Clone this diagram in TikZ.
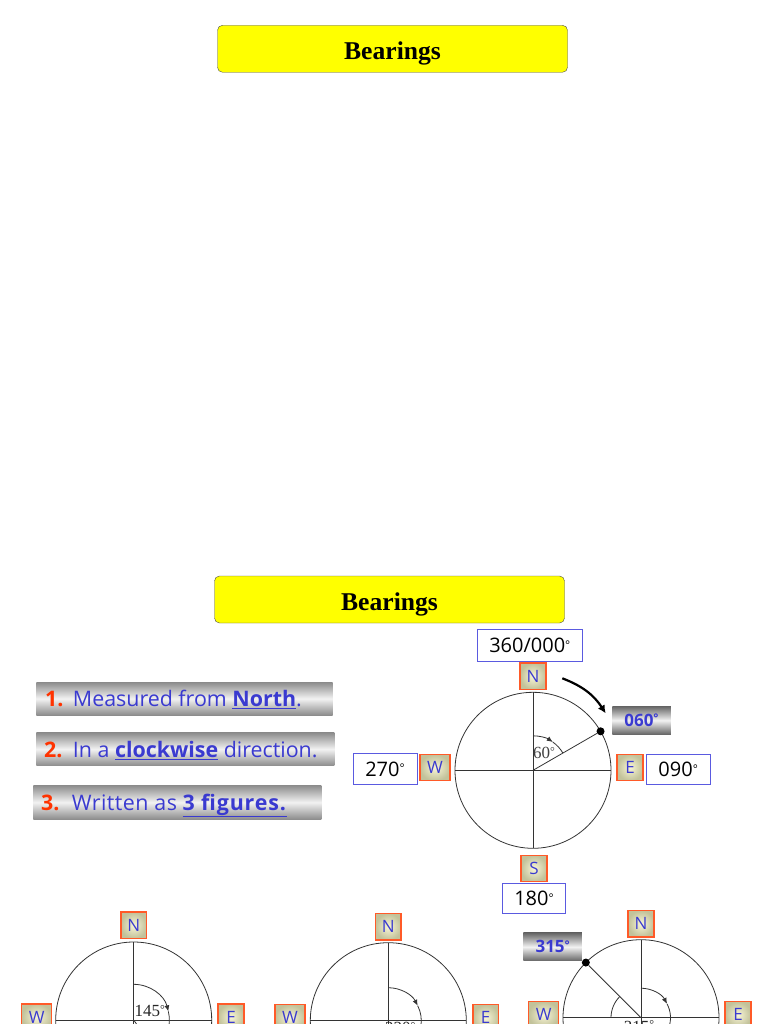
\documentclass[tikz,border=0pt]{standalone}
\usepackage{fontspec}
\setmainfont{Open Sans}
\newfontfamily\titlefont{Liberation Serif}
\usetikzlibrary{arrows.meta,positioning}
\definecolor{titleyellow}{HTML}{FFFF00}
\definecolor{textblue}{HTML}{3A3AD0}
\definecolor{edgeblue}{HTML}{5A5AE0}
\definecolor{edgeorange}{HTML}{FF5A28}
\definecolor{numred}{HTML}{FF3300}
\definecolor{spokegrey}{HTML}{333333}
\definecolor{boxlight}{HTML}{F8F5D6}
\definecolor{boxdark}{HTML}{C2C29A}
\newcommand{\dg}{\raisebox{3.5pt}{\fontsize{12}{12}\selectfont °}}
\tikzset{
  titlebox/.style={draw=black!70,fill=titleyellow,rounded corners=5pt,minimum width=350pt,minimum height=47pt,inner sep=0pt,text height=21pt,text depth=0pt,font=\titlefont\bfseries\fontsize{25.6}{28}\selectfont},
  greybar/.style={top color=black!45,bottom color=black!45,middle color=black!5},
  bartext/.style={anchor=base west,inner sep=0pt,text=textblue,font=\fontsize{21.4}{24}\selectfont},
  dirbox/.style={draw=edgeorange,line width=1.5pt,inner color=boxlight,outer color=boxdark,minimum width=25.6pt,minimum height=26.4pt,inner sep=0pt,text=textblue,font=\fontsize{17}{20}\selectfont},
  widebox/.style={dirbox,minimum width=30pt},
  degbox/.style={draw=edgeblue,line width=0.8pt,fill=white,inner sep=0pt,font=\fontsize{20}{22}\selectfont},
  markbox/.style={top color=black!60,bottom color=black!60,middle color=black!5,inner sep=0pt,minimum width=58.5pt,minimum height=28pt,text=textblue,font=\bfseries\fontsize{17}{19}\selectfont},
  spoke/.style={spokegrey,line width=0.8pt},
  anglabel/.style={inner sep=0pt,text=black!75,font=\titlefont\fontsize{17}{19}\selectfont},
  dot/.style={circle,fill=black,inner sep=0pt,minimum size=8pt}
}
\begin{document}
\begin{tikzpicture}[x=1pt,y=-1pt]

    \useasboundingbox (0,0) rectangle (768,1024);
    \clip (0,0) rectangle (768,1024);

    \node[titlebox] (title1) at (392.5,48.8) {Bearings};
    \node[titlebox] (title2) at (389.5,599.5) {Bearings};

    \shade[greybar] (36.3,682.3) rectangle (332.7,715);
    \shade[greybar] (36.3,732.7) rectangle (334.3,765.7);
    \shade[greybar] (33.3,785.3) rectangle (321.3,819.3);

    \node[bartext] (rule1) at (45,706.7) {\textcolor{numred}{\textbf{1.}}\hspace{2pt} Measured from \underline{\textbf{North}}.};
    \node[bartext] (rule2) at (44,757.7) {\textcolor{numred}{\textbf{2.}}\hspace{3pt} In a \underline{\textbf{clockwise}} direction.};
    \node[bartext] (rule3) at (41,810) {\textcolor{numred}{\textbf{3.}}\hspace{5pt} {\addfontfeature{LetterSpace=2}Written as} \underline{{\addfontfeature{LetterSpace=4}\textbf{3 figures.}}}};

    \begin{scope}[xshift=533pt,yshift=-770.3pt]

      \draw[spoke] (0,0) circle [radius=78];
      \draw[spoke] (-78,0) -- (78,0);
      \draw[spoke] (0,-78) -- (0,78);
      \node[dot] (pt060) at (-30:78) {};
      \draw[spoke] (0,0) -- (pt060);
      \draw[spoke,-{Latex[length=6pt,width=5pt]}] (0,-34.5) arc [start angle=-90,end angle=-55,radius=34.5];
      \draw[spoke] (-55:34.5) arc [start angle=-55,end angle=-30,radius=34.5];
      \node[anglabel] (lab60) at (11,-17) {60\dg};

      \node[dirbox] (north) at (0,-94) {N};
      \node[dirbox] (south) at (1,98.2) {S};
      \node[widebox] (west) at (-98,-2.8) {W};
      \node[dirbox] (east) at (97,-2.8) {E};

      \node[degbox,minimum width=105pt,minimum height=31.6pt] (deg360) at (-3.2,-124.8) {360/000\dg};
      \node[degbox,minimum width=64pt,minimum height=31.4pt] (deg270) at (-148,-1.3) {270\dg};
      \node[degbox,minimum width=63.7pt,minimum height=30.4pt] (deg090) at (145.2,-0.8) {090\dg};
      \node[degbox,minimum width=62.6pt,minimum height=30pt] (deg180) at (1,128.4) {180\dg};
      \node[markbox] (mark060) at (108.5,-50) {060\dg};

      \coordinate (swingA) at (29.3,-92);
      \coordinate (swingB) at (72.7,-57);
      \draw[line width=2.2pt,-{Latex[length=8pt,width=8pt]}] (swingA) to[bend left=18] (swingB);

    \end{scope}

    \begin{scope}[xshift=133.7pt,yshift=-1020pt]

      \draw[spoke] (0,0) circle [radius=78];
      \draw[spoke] (-78,0) -- (78,0);
      \draw[spoke] (0,-78) -- (0,78);
      \draw[spoke] (0,0) -- (55:78);
      \draw[spoke,-{Latex[length=6pt,width=5pt]}] (0,-35.7) arc [start angle=-90,end angle=-14,radius=35.7];
      \draw[spoke] (-14:35.7) arc [start angle=-14,end angle=55,radius=35.7];
      \node[anglabel,text=black!85] (lab145) at (16,-9) {145\dg};

      \node[dirbox] (north1) at (0,-94.7) {N};
      \node[widebox] (west1) at (-97,-3) {W};
      \node[dirbox] (east1) at (97.3,-3) {E};

    \end{scope}

    \begin{scope}[xshift=388.3pt,yshift=-1020.7pt]

      \draw[spoke] (0,0) circle [radius=78];
      \draw[spoke] (-78,0) -- (78,0);
      \draw[spoke] (0,-78) -- (0,78);
      \draw[spoke,-{Latex[length=6pt,width=5pt]}] (0,-33) arc [start angle=-90,end angle=-27,radius=33];
      \draw[spoke] (-27:33) arc [start angle=-27,end angle=10,radius=33];
      \node[anglabel,text=black!85,anchor=north] (lab230) at (12,1.5) {230\dg};

      \node[dirbox] (north2) at (0,-94) {N};
      \node[widebox] (west2) at (-98.3,-3) {W};
      \node[dirbox] (east2) at (97.4,-3) {E};

    \end{scope}

    \begin{scope}[xshift=641pt,yshift=-1017.7pt]

      \draw[spoke] (0,0) circle [radius=78];
      \draw[spoke] (-78,0) -- (78,0);
      \draw[spoke] (0,-78) -- (0,78);
      \node[dot] (pt315) at (-135:78) {};
      \draw[spoke] (0,0) -- (pt315);
      \draw[spoke,-{Latex[length=6pt,width=5pt]}] (0,-29.5) arc [start angle=-90,end angle=-28,radius=29.5];
      \draw[spoke] (-28:29.5) arc [start angle=-28,end angle=20,radius=29.5];
      \draw[spoke] (180:30) arc [start angle=180,end angle=225,radius=30];
      \node[anglabel,text=black!85,anchor=north] (lab315) at (-2,3) {315\dg};

      \node[dirbox] (north3) at (0,-94) {N};
      \node[widebox] (west3) at (-97.3,-3) {W};
      \node[dirbox] (east3) at (97,-3) {E};
      \node[markbox] (mark315) at (-88.3,-70.8) {315\dg};

    \end{scope}

\end{tikzpicture}
\end{document}
